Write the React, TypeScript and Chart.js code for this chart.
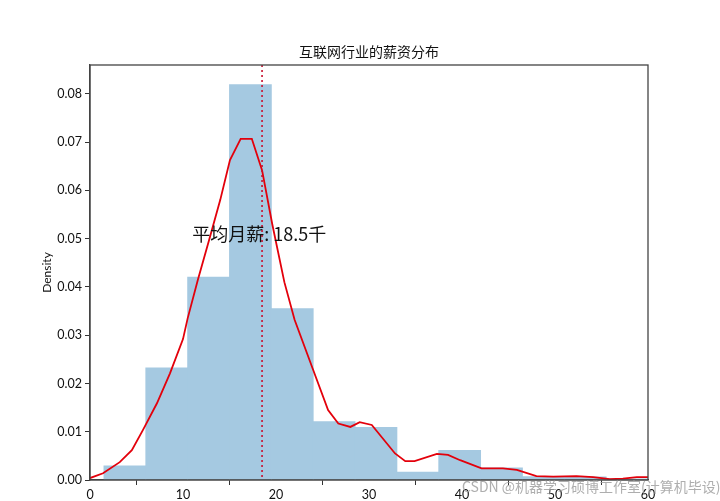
import React, { useEffect, useRef } from "react";
import { Chart, registerables } from "chart.js";

Chart.register(...registerables);

const binStarts = [1.5, 6, 10.5, 15, 19.5, 24, 28.5, 33, 37.5, 42, 46.5, 51, 55.5];
const binWidth = 4.5;
const binDensity = [0.003, 0.0233, 0.0421, 0.082, 0.0356, 0.0122, 0.011, 0.0017, 0.0062, 0.0026, 0.0008, 0.0007, 0.0003];

const kdeX = [0, 1.4, 3.2, 4.5, 5.7, 7.2, 8.6, 10.0, 10.5, 11.6, 12.8, 14.0, 15.05, 16.2, 17.4, 18.5, 19.6, 20.9, 22.0, 24.0, 25.6, 26.7, 28.0, 29.0, 30.3, 32.8, 33.9, 34.9, 37.3, 38.5, 39.8, 42.1, 44.4, 45.9, 48.0, 49.8, 52.3, 54.1, 55.9, 57.3, 58.8, 60];
const kdeY = [0.0004, 0.0014, 0.0037, 0.0062, 0.0104, 0.0159, 0.0221, 0.0292, 0.0335, 0.0415, 0.0497, 0.058, 0.0663, 0.0707, 0.0707, 0.0642, 0.053, 0.041, 0.0332, 0.0228, 0.0145, 0.0117, 0.011, 0.012, 0.0114, 0.0055, 0.0039, 0.0039, 0.0054, 0.0052, 0.0041, 0.0024, 0.0024, 0.0021, 0.0008, 0.0007, 0.0008, 0.0006, 0.0002, 0.0003, 0.0006, 0.0006];

const meanSalary = 18.5;
const titleText = "互联网行业的薪资分布";
const annotationText = "平均月薪: 18.5千";
const yLabel = "Density";
const watermark = "CSDN @机器学习硕博工作室(计算机毕设)";
const xTicks = [0, 10, 20, 30, 40, 50, 60];

const FONT = "Lato, 'Noto Sans', sans-serif";
const CJK = "'Noto Sans CJK SC', sans-serif";

const overlay = {
  id: "overlay",
  afterDatasetsDraw(chart: any) {
    const { ctx, chartArea, scales } = chart;
    const x = scales.x, y = scales.y;
    ctx.save();
    const mx = x.getPixelForValue(meanSalary);
    ctx.strokeStyle = "#c8102e";
    ctx.lineWidth = 1.6;
    ctx.setLineDash([2, 3]);
    ctx.beginPath();
    ctx.moveTo(mx, chartArea.top);
    ctx.lineTo(mx, chartArea.bottom);
    ctx.stroke();
    ctx.setLineDash([]);
    ctx.fillStyle = "#111";
    ctx.font = `18px ${CJK}`;
    ctx.textAlign = "left";
    ctx.textBaseline = "middle";
    ctx.fillText(annotationText, x.getPixelForValue(11), y.getPixelForValue(0.051));
    ctx.strokeStyle = "#444";
    ctx.lineWidth = 1.3;
    ctx.strokeRect(chartArea.left, chartArea.top, chartArea.right - chartArea.left, chartArea.bottom - chartArea.top);
    ctx.restore();
  },
  afterDraw(chart: any) {
    const { ctx, chartArea } = chart;
    ctx.save();
    ctx.fillStyle = "#111";
    ctx.font = `14px ${CJK}`;
    ctx.textAlign = "center";
    ctx.textBaseline = "middle";
    ctx.fillText(titleText, (chartArea.left + chartArea.right) / 2, 52);
    ctx.translate(47, (chartArea.top + chartArea.bottom) / 2);
    ctx.rotate(-Math.PI / 2);
    ctx.font = `12px ${FONT}`;
    ctx.fillText(yLabel, 0, 0);
    ctx.restore();
    ctx.save();
    ctx.font = `14px ${CJK}`;
    ctx.textAlign = "left";
    ctx.textBaseline = "middle";
    ctx.fillStyle = "rgba(160,160,160,0.85)";
    ctx.fillText(watermark, 462, 487);
    ctx.restore();
  },
};

export default function App() {
  const ref = useRef<HTMLCanvasElement>(null);
  useEffect(() => {
    if (!ref.current) return;
    const bars = binStarts.map((s, i) => ({ x: s + binWidth / 2, y: binDensity[i] }));
    const kde = kdeX.map((v, i) => ({ x: v, y: kdeY[i] }));
    const chart = new Chart(ref.current, {
      type: "bar",
      data: {
        datasets: [
          {
            type: "line",
            data: kde,
            borderColor: "#e3000b",
            borderWidth: 1.8,
            pointRadius: 0,
            fill: false,
            tension: 0,
            order: 0,
          } as any,
          {
            type: "bar",
            data: bars,
            backgroundColor: "#a5c9e1",
            borderWidth: 0,
            borderSkipped: false,
            barPercentage: 1.02,
            categoryPercentage: 1,
            order: 1,
          } as any,
        ],
      },
      plugins: [overlay],
      options: {
        animation: false,
        responsive: false,
        maintainAspectRatio: false,
        layout: { padding: { top: 65, right: 72, left: 0, bottom: 0 } },
        plugins: { legend: { display: false }, tooltip: { enabled: false }, title: { display: false } },
        scales: {
          x: {
            type: "linear",
            min: 0,
            max: 60,
            offset: false,
            afterFit: (s: any) => { s.height = 21; },
            afterBuildTicks: (s: any) => { s.ticks = xTicks.map((v) => ({ value: v })); },
            ticks: { color: "#111", font: { size: 12.5, family: FONT }, padding: 2, maxRotation: 0, autoSkip: false },
            grid: { drawOnChartArea: false, drawTicks: true, tickLength: 5, color: "#333", lineWidth: 1 },
            border: { display: true, color: "#444", width: 1.3 },
          },
          y: {
            type: "linear",
            min: 0,
            max: 0.086,
            afterFit: (s: any) => { s.width = 90; },
            ticks: {
              stepSize: 0.01,
              includeBounds: false,
              color: "#111",
              font: { size: 12.5, family: FONT },
              padding: 3,
              callback: (v: any) => Number(v).toFixed(2),
            },
            grid: { drawOnChartArea: false, drawTicks: true, tickLength: 5, color: "#333", lineWidth: 1 },
            border: { display: true, color: "#444", width: 1.3 },
          },
        },
      },
    });
    return () => chart.destroy();
  }, []);
  return (
    <div style={{ position: "absolute", left: 0, top: 0, width: 720, height: 501, background: "#fff" }}>
      <canvas ref={ref} width={720} height={501} style={{ width: 720, height: 501, display: "block" }} />
    </div>
  );
}
